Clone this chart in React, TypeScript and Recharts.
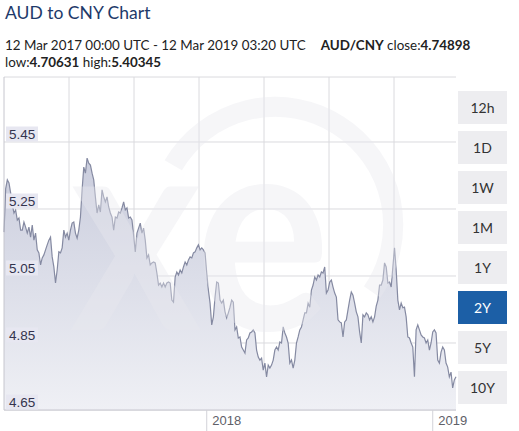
import React from 'react';
import { AreaChart, Area, XAxis, YAxis, CartesianGrid } from 'recharts';

const rates = [
  5.181, 5.310, 5.337, 5.328, 5.298, 5.262, 5.238, 5.247, 5.217, 5.223,
  5.187, 5.187, 5.211, 5.196, 5.178, 5.196, 5.166, 5.202, 5.157, 5.178,
  5.128, 5.119, 5.083, 5.104, 5.113, 5.128, 5.143, 5.157, 5.166, 5.107,
  5.077, 5.029, 5.068, 5.122, 5.119, 5.134, 5.187, 5.166, 5.178, 5.157,
  5.187, 5.208, 5.211, 5.178, 5.163, 5.187, 5.226, 5.307, 5.375, 5.357,
  5.402, 5.387, 5.381, 5.357, 5.337, 5.286, 5.238, 5.262, 5.241, 5.307,
  5.286, 5.271, 5.286, 5.256, 5.238, 5.226, 5.187, 5.226, 5.223, 5.241,
  5.238, 5.253, 5.271, 5.247, 5.253, 5.223, 5.226, 5.217, 5.172, 5.122,
  5.178, 5.193, 5.208, 5.178, 5.193, 5.157, 5.104, 5.113, 5.083, 5.089,
  5.092, 5.089, 5.059, 5.023, 5.029, 5.017, 5.029, 5.017, 5.029, 5.032,
  5.029, 4.978, 4.972, 5.047, 5.062, 5.053, 5.068, 5.059, 5.077, 5.092,
  5.083, 5.098, 5.107, 5.104, 5.119, 5.122, 5.134, 5.143, 5.128, 5.134,
  5.128, 5.119, 5.059, 5.008, 4.969, 4.904, 4.928, 4.987, 5.032, 5.029,
  4.978, 4.969, 4.978, 4.943, 4.925, 4.940, 4.957, 4.978, 4.972, 4.889,
  4.898, 4.865, 4.868, 4.838, 4.829, 4.820, 4.859, 4.865, 4.880, 4.883,
  4.889, 4.880, 4.829, 4.808, 4.799, 4.805, 4.769, 4.790, 4.749, 4.784,
  4.775, 4.784, 4.799, 4.829, 4.838, 4.829, 4.853, 4.850, 4.898, 4.880,
  4.868, 4.850, 4.790, 4.799, 4.775, 4.799, 4.850, 4.868, 4.889, 4.898,
  4.919, 4.940, 4.940, 4.969, 4.957, 5.008, 5.023, 5.047, 5.038, 5.053,
  5.047, 5.062, 5.059, 5.077, 4.999, 5.008, 5.032, 5.038, 5.017, 4.999,
  4.987, 4.919, 4.913, 4.910, 4.868, 4.913, 4.919, 4.949, 4.978, 5.002,
  4.993, 4.969, 4.943, 4.928, 4.883, 4.850, 4.934, 4.928, 4.940, 4.934,
  4.919, 4.928, 4.913, 4.928, 4.960, 4.978, 5.023, 5.023, 5.038, 5.089,
  5.077, 5.029, 5.032, 5.017, 5.077, 5.134, 5.068, 4.978, 4.949, 4.969,
  4.955, 4.957, 4.928, 4.868, 4.865, 4.850, 4.838, 4.749, 4.889, 4.904,
  4.889, 4.874, 4.868, 4.865, 4.850, 4.859, 4.829, 4.850, 4.883, 4.889,
  4.880, 4.799, 4.790, 4.823, 4.838, 4.829, 4.790, 4.778, 4.749, 4.763,
  4.716, 4.740, 4.749,
];

const yTicks = [4.65, 4.85, 5.05, 5.25, 5.45];
const yDomain = [4.65, 5.644];
const yearTickIndex = [122, 258];
const yearLabels = ['2018', '2019'];
const ranges = ['12h', '1D', '1W', '1M', '1Y', '2Y', '5Y', '10Y'];
const activeRange = '2Y';

const data = rates.map((rate, i) => ({ i, rate }));

const sans = '"Liberation Sans", Arial, sans-serif';
const uiFont = 'Lato, "Noto Sans", sans-serif';

const YTick = (props: any) => {
  const { y, payload } = props;
  return (
    <g>
      <rect x={6} y={y - 15.5} width={32} height={15} fill="#e7e7f1" />
      <text x={9} y={y - 2.8} fontSize={13.5} fill="#34344e" fontFamily={sans}>
        {Number(payload.value).toFixed(2)}
      </text>
    </g>
  );
};

const XTick = (props: any) => {
  const { x, payload } = props;
  const idx = yearTickIndex.indexOf(payload.value);
  return (
    <g>
      <line x1={x} x2={x} y1={410} y2={431} stroke="#d2d2d8" strokeWidth={1} />
      <text x={x + 5.5} y={425} fontSize={13} fill="#606068" fontFamily={sans}>
        {yearLabels[idx]}
      </text>
    </g>
  );
};

export default function App() {
  return (
    <div
      style={{
        position: 'absolute',
        left: 0,
        top: 0,
        width: 519,
        height: 431,
        background: '#fff',
        overflow: 'hidden',
        fontFamily: uiFont,
      }}
    >
      <div
        style={{
          position: 'absolute',
          left: 5,
          top: 1,
          fontSize: 17.5,
          lineHeight: '24px',
          color: '#1e3a6a',
          whiteSpace: 'nowrap',
        }}
      >
        AUD to CNY Chart
      </div>
      <div
        style={{
          position: 'absolute',
          left: 5,
          top: 37,
          fontSize: 13.4,
          lineHeight: '17px',
          color: '#222',
          whiteSpace: 'nowrap',
        }}
      >
        <div>
          12 Mar 2017 00:00 UTC - 12 Mar 2019 03:20 UTC
          <span style={{ marginLeft: 15 }}>
            <b>AUD/CNY</b> close:<b>4.74898</b>
          </span>
        </div>
        <div>
          low:<b>4.70631</b> high:<b>5.40345</b>
        </div>
      </div>

      <div style={{ position: 'absolute', left: 0, top: 0 }}>
        <AreaChart
          width={519}
          height={431}
          data={data}
          margin={{ top: 77, right: 63, left: 4, bottom: 0 }}
        >
          <defs>
            <linearGradient id="fillGrad" x1="0" y1="0" x2="0" y2="1">
              <stop offset="0%" stopColor="#cacddd" />
              <stop offset="100%" stopColor="#eff0f5" />
            </linearGradient>
          </defs>
          <CartesianGrid
            stroke="#dadade"
            verticalCoordinatesGenerator={({ offset }: any) =>
              [1, 2, 3, 4, 5, 6].map((k) => offset.left + 65 * k)
            }
          />
          <XAxis
            type="number"
            dataKey="i"
            domain={[0, rates.length - 1]}
            ticks={yearTickIndex}
            interval={0}
            height={21}
            tickLine={false}
            axisLine={{ stroke: '#c6c6ce' }}
            tick={<XTick />}
          />
          <YAxis
            type="number"
            domain={yDomain}
            ticks={yTicks}
            width={40}
            mirror
            interval={0}
            allowDataOverflow
            tickLine={false}
            axisLine={{ stroke: '#c6c6ce' }}
            tick={<YTick />}
          />
          <Area
            type="linear"
            dataKey="rate"
            stroke="#858aa2"
            strokeWidth={1.2}
            fill="url(#fillGrad)"
            fillOpacity={1}
            isAnimationActive={false}
            dot={false}
            activeDot={false}
          />
        </AreaChart>
      </div>

      <svg
        width={460}
        height={431}
        style={{ position: 'absolute', left: 0, top: 0, pointerEvents: 'none' }}
      >
        <g opacity={0.4}>
          <path
            d="M 173.3 165.3 A 118 118 0 1 1 372.2 292"
            fill="none"
            stroke="#e9e9ef"
            strokeWidth={20}
          />
          <text
            x={70}
            y={330}
            fontSize={280}
            fontWeight={700}
            fontFamily="Lato, sans-serif"
            fill="#e9e9ef"
            textLength={260}
            lengthAdjust="spacingAndGlyphs"
          >
            xe
          </text>
        </g>
      </svg>

      {ranges.map((r, k) => (
        <div
          key={r}
          style={{
            position: 'absolute',
            left: 458,
            top: 91 + 40 * k,
            width: 49,
            height: 33,
            lineHeight: '33px',
            textAlign: 'center',
            fontSize: 14,
            background: r === activeRange ? '#1c5fa6' : '#ededf0',
            color: r === activeRange ? '#fff' : '#333',
          }}
        >
          {r}
        </div>
      ))}
    </div>
  );
}
